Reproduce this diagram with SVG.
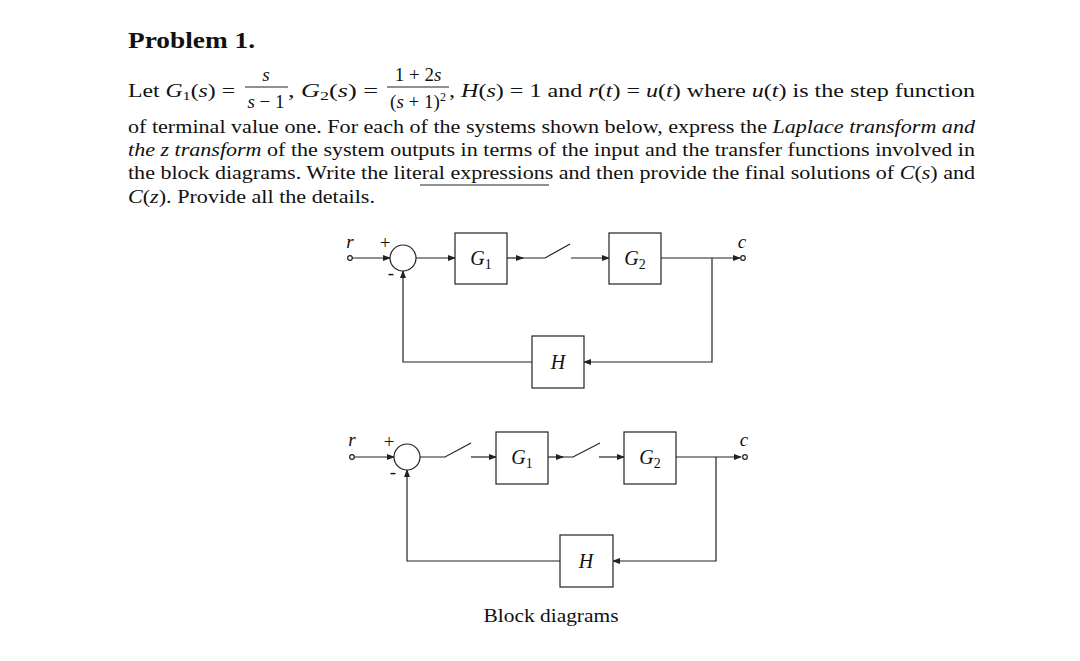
<svg xmlns="http://www.w3.org/2000/svg" width="1080" height="661" viewBox="0 0 1080 661">
<style>
text{font-family:"Liberation Serif",serif;fill:#111;font-size:19px}
.i{font-style:italic}
.b{fill:#fff;stroke:#222;stroke-width:1.2}
.l{fill:none;stroke:#222;stroke-width:1.2}
.lab{font-size:20px;text-anchor:middle}
</style>
<defs><marker id="a" markerWidth="8" markerHeight="6" refX="7" refY="3" orient="auto" markerUnits="userSpaceOnUse"><path d="M0,0L8,3L0,6z" fill="#222"/></marker></defs>
<rect width="1080" height="661" fill="#fff"/>
<text x="128" y="48" style="font-weight:bold;font-size:23px" textLength="127" lengthAdjust="spacingAndGlyphs">Problem 1.</text>
<text x="128" y="97" textLength="107" lengthAdjust="spacingAndGlyphs">Let <tspan class="i">G</tspan><tspan font-size="13" dy="3">1</tspan><tspan dy="-3">(</tspan><tspan class="i">s</tspan>) =</text>
<text x="266" y="81" text-anchor="middle" class="i" font-size="16">s</text>
<line x1="245" y1="87" x2="288" y2="87" class="l"/>
<text x="266" y="108" text-anchor="middle" font-size="17"><tspan class="i">s</tspan> − 1</text>
<text x="288" y="97" textLength="90" lengthAdjust="spacingAndGlyphs">, <tspan class="i">G</tspan><tspan font-size="13" dy="3">2</tspan><tspan dy="-3">(</tspan><tspan class="i">s</tspan>) =</text>
<text x="418" y="81" text-anchor="middle" font-size="17">1 + 2<tspan class="i">s</tspan></text>
<line x1="387" y1="87" x2="449" y2="87" class="l"/>
<text x="418" y="108" text-anchor="middle" font-size="17">(<tspan class="i">s</tspan> + 1)<tspan font-size="12" dy="-7">2</tspan></text>
<text x="449" y="97" textLength="526" lengthAdjust="spacingAndGlyphs">, <tspan class="i">H</tspan>(<tspan class="i">s</tspan>) = 1 and <tspan class="i">r</tspan>(<tspan class="i">t</tspan>) = <tspan class="i">u</tspan>(<tspan class="i">t</tspan>) where <tspan class="i">u</tspan>(<tspan class="i">t</tspan>) is the step function</text>
<text x="128" y="133" textLength="847" lengthAdjust="spacingAndGlyphs">of terminal value one. For each of the systems shown below, express the <tspan class="i">Laplace transform and</tspan></text>
<text x="128" y="156" textLength="847" lengthAdjust="spacingAndGlyphs"><tspan class="i">the z transform</tspan> of the system outputs in terms of the input and the transfer functions involved in</text>
<text x="128" y="179" textLength="847" lengthAdjust="spacingAndGlyphs">the block diagrams. Write the literal expressions and then provide the final solutions of <tspan class="i">C</tspan>(<tspan class="i">s</tspan>) and</text>
<line x1="420" y1="185" x2="549" y2="185" stroke="#222" stroke-width="1"/>
<text x="128" y="203" textLength="247" lengthAdjust="spacingAndGlyphs"><tspan class="i">C</tspan>(<tspan class="i">z</tspan>). Provide all the details.</text>

<g id="connectors" class="l">
<line x1="352" y1="258" x2="390" y2="258" marker-end="url(#a)"/>
<line x1="416" y1="258" x2="455" y2="258" marker-end="url(#a)"/>
<line x1="507" y1="258" x2="523" y2="258" marker-end="url(#a)"/>
<polyline points="520,258 545,258 570,244"/>
<line x1="571" y1="258" x2="609" y2="258" marker-end="url(#a)"/>
<line x1="661" y1="258" x2="740" y2="258" marker-end="url(#a)"/>
<polyline points="712,258 712,362 584,362" marker-end="url(#a)"/>
<polyline points="532,362 403,362 403,271" marker-end="url(#a)"/>

<line x1="354" y1="457" x2="394" y2="457" marker-end="url(#a)"/>
<polyline points="420,457 445,457 471,443"/>
<line x1="471" y1="457" x2="496" y2="457" marker-end="url(#a)"/>
<line x1="548" y1="457" x2="563" y2="457" marker-end="url(#a)"/>
<polyline points="560,457 573,457 600,443"/>
<line x1="599" y1="457" x2="624" y2="457" marker-end="url(#a)"/>
<line x1="676" y1="457" x2="741" y2="457" marker-end="url(#a)"/>
<polyline points="716,457 716,561 613,561" marker-end="url(#a)"/>
<polyline points="560,561 407,561 407,470" marker-end="url(#a)"/>
</g>

<g id="d1">
<g id="r1"><circle cx="350" cy="258" r="2.3" class="b"/><text x="350" y="248" class="i" font-size="14" text-anchor="middle">r</text></g>
<g id="sum1"><circle cx="403" cy="258" r="13" class="b"/><text x="385" y="249" font-size="15" text-anchor="middle">+</text><text x="391" y="279" font-size="15" text-anchor="middle">-</text></g>
<g id="G1a"><rect x="455" y="233" width="52" height="51" class="b"/><text x="481" y="265" class="lab i">G<tspan font-size="14" font-style="normal" dy="4">1</tspan></text></g>
<g id="G2a"><rect x="609" y="233" width="52" height="51" class="b"/><text x="635" y="265" class="lab i">G<tspan font-size="14" font-style="normal" dy="4">2</tspan></text></g>
<g id="Ha"><rect x="532" y="336" width="52" height="52" class="b"/><text x="558" y="369" class="lab i">H</text></g>
<g id="c1"><circle cx="743" cy="258" r="2.3" class="b"/><text x="742" y="248" class="i" font-size="14" text-anchor="middle">c</text></g>
</g>
<g id="d2">
<g id="r2"><circle cx="352" cy="457" r="2.3" class="b"/><text x="352" y="446" class="i" font-size="14" text-anchor="middle">r</text></g>
<g id="sum2"><circle cx="407" cy="457" r="13" class="b"/><text x="389" y="448" font-size="15" text-anchor="middle">+</text><text x="393" y="478" font-size="15" text-anchor="middle">-</text></g>
<g id="G1b"><rect x="496" y="432" width="52" height="52" class="b"/><text x="522" y="464" class="lab i">G<tspan font-size="14" font-style="normal" dy="4">1</tspan></text></g>
<g id="G2b"><rect x="624" y="432" width="52" height="52" class="b"/><text x="650" y="464" class="lab i">G<tspan font-size="14" font-style="normal" dy="4">2</tspan></text></g>
<g id="Hb"><rect x="560" y="535" width="53" height="52" class="b"/><text x="586" y="568" class="lab i">H</text></g>
<g id="c2"><circle cx="745" cy="457" r="2.3" class="b"/><text x="744" y="446" class="i" font-size="14" text-anchor="middle">c</text></g>
</g>
<text x="551" y="622" text-anchor="middle" font-size="20" textLength="135" lengthAdjust="spacingAndGlyphs">Block diagrams</text>
</svg>
